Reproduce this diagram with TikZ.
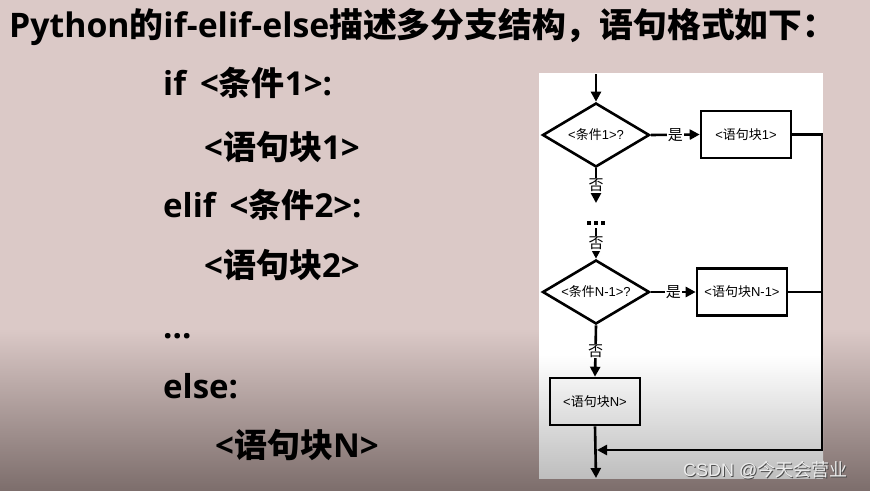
\documentclass[tikz,border=0pt]{standalone}
\usepackage{fontspec}
\setmainfont{Open Sans}
\newfontfamily\cjk{Noto Sans CJK SC}
\newfontfamily\arial{Liberation Sans}
\usetikzlibrary{shapes.geometric,arrows.meta}
\newcommand{\zh}[1]{{\cjk #1}}

\definecolor{bgtop}{RGB}{219,201,199}
\definecolor{bgbot}{RGB}{125,110,108}
\definecolor{panelbot}{RGB}{190,190,190}
\definecolor{markgray}{RGB}{236,236,236}

\tikzset{
  box/.style={draw,line width=2.6pt,minimum width=90pt,minimum height=47pt,inner sep=0pt,
    font=\fontsize{13}{13}\selectfont\arial},
  cond/.style={draw,diamond,aspect=1.7,line width=2.6pt,minimum width=107pt,minimum height=64pt,inner sep=0pt,
    font=\fontsize{13}{13}\selectfont\arial},
  flow/.style={line width=2.6pt,-{Triangle[length=10pt,width=10pt]}},
  plain/.style={line width=2.6pt},
  lab/.style={fill=white,inner sep=1pt,font=\fontsize{15}{15}\selectfont\cjk},
  code/.style={anchor=base west,inner sep=0pt,font=\fontsize{33}{33}\selectfont\bfseries},
}

\begin{document}
\begin{tikzpicture}[x=1pt,y=-1pt]
 % background and panel
 \fill[bgtop] (0,0) rectangle (870,330);
 \shade[top color=bgtop,bottom color=bgbot] (0,329) rectangle (870,490);
 \fill[white] (539,73) rectangle (823,356);
 \shade[top color=white,bottom color=panelbot] (539,355) rectangle (823,478);
 \useasboundingbox (0,0) rectangle (870,490);

 % title
 \node[anchor=base west,inner sep=0pt,font=\fontsize{33.8}{34}\selectfont\bfseries] (title) at (9,37)
   {Python\zh{的}if-elif-else\zh{描述多分支结构，语句格式如下：}};

 % code
 \node[code] (l1) at (163,95) {if \,<\zh{条件}1>:};
 \node[code] (l2) at (204,159) {<\zh{语句块}1>};
 \node[code] (l3) at (163,217) {elif \,<\zh{条件}2>:};
 \node[code] (l4) at (204,277) {<\zh{语句块}2>};
 \node[code] (l5) at (163,338) {...};
 \node[code] (l6) at (163,398) {else:};
 \node[code] (l7) at (215,457) {<\zh{语句块}N>};

 % flow chart
 \coordinate (top) at (596,74);
 \node[cond] (c1) at (596,135) {<\zh{条件}1>?};
 \node[box] (b1) at (746,134.5) {<\zh{语句块}1>};
 \coordinate (d1) at (596,203);
 \foreach \x in {-7,0,7}
   \fill (596+\x-1.7,221.3) rectangle ++(3.4,3.4);
 \coordinate (d2) at (596,228);
 \node[cond] (c2) at (596,292) {<\zh{条件}N-1>?};
 \node[box] (b2) at (742,292) {<\zh{语句块}N-1>};
 \node[box] (b3) at (595,401.5) {<\zh{语句块}N>};
 \coordinate (rt) at (822,450);
 \coordinate (join) at (596,450);
 \coordinate (bot) at (596,478);

 \draw[flow] (top) -- (c1.north);
 \draw[flow] (c1.east) -- node[lab]{是} (b1.west);
 \draw[flow] (c1.south) -- node[lab]{否} (d1);
 \draw[flow] (d2) -- node[lab]{否} (c2.north);
 \draw[flow] (c2.east) -- node[lab]{是} (b2.west);
 \draw[flow] (c2.south) -- node[lab]{否} (b3.north);
 \draw[flow] (b3.south) -- (bot);
 \draw[flow,shorten >=1pt] (b1.east) -| (rt) -- (join);
 \draw[plain] (b2.east) -- (b2.east -| rt);

 % watermark
 \node[anchor=base west,inner sep=0pt,text=black!70,font=\fontsize{18}{18}\selectfont\arial] (shadow) at (684,477)
   {CSDN @\zh{今天会营业}};
 \node[anchor=base west,inner sep=0pt,text=markgray,font=\fontsize{18}{18}\selectfont\arial] (mark) at (683,476)
   {CSDN @\zh{今天会营业}};
\end{tikzpicture}
\end{document}
